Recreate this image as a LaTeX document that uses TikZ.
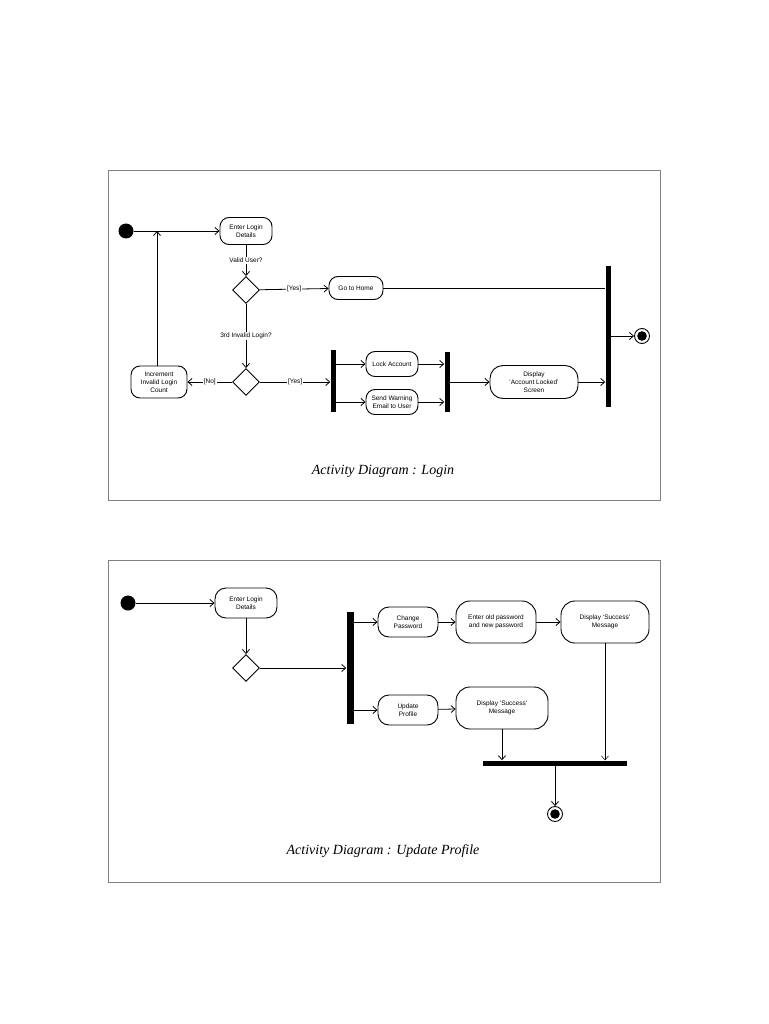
\documentclass[tikz,border=0pt]{standalone}
\usepackage{fontspec}
\setmainfont{Liberation Sans}
\newfontfamily\tserif{Liberation Serif}
\usetikzlibrary{shapes.geometric,arrows.meta}
\begin{document}
\begin{tikzpicture}[x=1pt,y=-1pt,
 act/.style={draw,rounded corners=9pt,line width=0.9pt,align=center,font=\fontsize{6.5}{8}\selectfont,inner sep=2pt},
 dec/.style={draw,diamond,line width=0.9pt,minimum width=27pt,minimum height=27pt,inner sep=0pt},
 bar/.style={fill=black,draw=none,inner sep=0pt},
 start/.style={circle,fill=black,minimum size=15pt,inner sep=0pt},
 fin/.style={circle,draw,line width=0.9pt,minimum size=15pt,inner sep=0pt,path picture={\fill (path picture bounding box.center) circle (4.8pt);}},
 ar/.style={-{Straight Barb[length=4pt,width=7pt]},line width=0.8pt},
 lbl/.style={fill=white,font=\fontsize{6.5}{8}\selectfont,inner sep=1pt},
 ttl/.style={font=\tserif\itshape\fontsize{14}{16}\selectfont}]
\useasboundingbox (0,0) rectangle (768,1024);
\draw[gray,line width=0.8pt] (108,170) rectangle (660,500);
\draw[gray,line width=0.8pt] (108,560) rectangle (660,882);
% Panel 1
\node[start] (s1) at (126,231) {};
\node[act,minimum width=52pt,minimum height=27pt] (eld) at (246,231) {Enter Login\\Details};
\node[dec] (d1) at (246,290) {};
\node[act,minimum width=54pt,minimum height=23pt] (home) at (356,288) {Go to Home};
\node[bar,minimum width=5pt,minimum height=141pt] (j1) at (608,336) {};
\node[fin] (f1) at (642,336) {};
\node[dec] (d2) at (246,382) {};
\node[act,minimum width=56pt,minimum height=32pt] (inc) at (159,382) {Increment\\Invalid Login\\Count};
\node[bar,minimum width=5pt,minimum height=62pt] (fk) at (333,381) {};
\node[act,minimum width=52pt,minimum height=25pt] (lock) at (392,364) {Lock Account};
\node[act,minimum width=52pt,minimum height=25pt] (warn) at (392,402) {Send Warning\\Email to User};
\node[bar,minimum width=5pt,minimum height=60pt] (jn) at (447,382) {};
\node[act,minimum width=88pt,minimum height=33pt,rounded corners=13pt] (disp) at (534,382) {Display\\`Account Locked'\\Screen};
\coordinate (c1) at (157,231);
\draw[ar] (s1) -- (eld);
\draw[ar] (eld) -- node[lbl]{Valid User?} (d1);
\draw[ar] (d1) -- node[lbl]{[Yes]} (home);
\draw[line width=0.8pt] (home) -- (home -| j1.west);
\draw[ar] (d1) -- node[lbl]{3rd Invalid Login?} (d2);
\draw[ar] (d2) -- node[lbl]{[No]} (inc);
\draw[ar] (inc.north -| c1) -- (c1);
\draw[ar] (d2) -- node[lbl]{[Yes]} (d2 -| fk.west);
\draw[ar] (lock -| fk.east) -- (lock);
\draw[ar] (warn -| fk.east) -- (warn);
\draw[ar] (lock) -- (lock -| jn.west);
\draw[ar] (warn) -- (warn -| jn.west);
\draw[ar] (jn.east) -- (disp);
\draw[ar] (disp) -- (disp -| j1.west);
\draw[ar] (j1.east |- f1) -- (f1);
\node[ttl] (t1) at (383,471) {Activity Diagram : Login};
% Panel 2
\node[start] (s2) at (128,603) {};
\node[act,minimum width=62pt,minimum height=30pt,rounded corners=11pt] (eld2) at (246,603) {Enter Login\\Details};
\node[dec] (d3) at (246,668) {};
\node[bar,minimum width=7pt,minimum height=112pt] (fk2) at (350,668) {};
\node[act,minimum width=60pt,minimum height=30pt,rounded corners=11pt] (chp) at (408,622) {Change\\Password};
\node[act,minimum width=80pt,minimum height=42pt,rounded corners=14pt] (eop) at (496,622) {Enter old password\\and new password};
\node[act,minimum width=88pt,minimum height=42pt,rounded corners=14pt] (ds1) at (605,622) {Display `Success'\\Message};
\node[act,minimum width=60pt,minimum height=30pt,rounded corners=11pt] (upd) at (408,710) {Update\\Profile};
\node[act,minimum width=92pt,minimum height=42pt,rounded corners=14pt] (ds2) at (502,708) {Display `Success'\\Message};
\node[bar,minimum width=144pt,minimum height=5pt] (j2) at (555,763) {};
\node[fin] (f2) at (555,814) {};
\draw[ar] (s2) -- (eld2);
\draw[ar] (eld2) -- (d3);
\draw[ar] (d3) -- (d3 -| fk2.west);
\draw[ar] (chp -| fk2.east) -- (chp);
\draw[ar] (upd -| fk2.east) -- (upd);
\draw[ar] (chp) -- (eop);
\draw[ar] (eop) -- (ds1);
\draw[ar] (upd) -- (ds2);
\draw[ar] (ds2) -- (ds2 |- j2.north);
\draw[ar,line width=0.5pt] (ds1) -- (ds1 |- j2.north);
\draw[ar] (j2) -- (f2);
\node[ttl] (t2) at (383,851) {Activity Diagram : Update Profile};
\end{tikzpicture}
\end{document}
